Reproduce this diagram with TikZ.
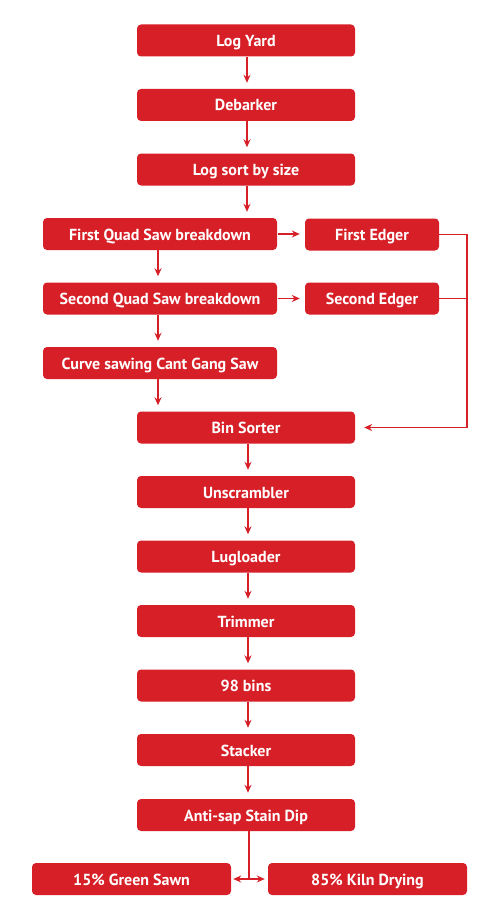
\documentclass[tikz,border=0pt]{standalone}
\usepackage{fontspec}
\setmainfont{PT Sans}
\usetikzlibrary{arrows.meta}
\definecolor{boxred}{HTML}{D71F27}
\begin{document}
\begin{tikzpicture}[x=1pt,y=-1pt,
  box/.style={draw=none,fill=boxred,rounded corners=4pt,minimum height=32pt,inner sep=0pt,
    text=white,font=\bfseries\fontsize{16}{18}\selectfont,text height=13pt,text depth=1pt},
  mainbox/.style={box,minimum width=218pt},
  leftbox/.style={box,minimum width=234pt},
  edgebox/.style={box,minimum width=134pt},
  botbox/.style={box,minimum width=199pt},
  arr/.style={draw=boxred,line width=1.6pt,-{Stealth[length=8pt,width=7pt]},shorten >=6pt},
  ln/.style={draw=boxred,line width=1.6pt}]
\useasboundingbox (0,0) rectangle (500,923);
\node[mainbox] (ly) at (246,40.5) {Log Yard};
\node[mainbox] (db) at (246,105) {Debarker};
\node[mainbox] (ls) at (246,169.5) {Log sort by size};
\node[leftbox] (fq) at (160,234) {First Quad Saw breakdown};
\node[edgebox] (fe) at (372,234.5) {First Edger};
\node[leftbox] (sq) at (160,298.5) {Second Quad Saw breakdown};
\node[edgebox] (se) at (372,298.5) {Second Edger};
\node[leftbox] (cs) at (160,363) {Curve sawing Cant Gang Saw};
\node[mainbox] (bs) at (246,427.5) {Bin Sorter};
\node[mainbox] (un) at (246,492) {Unscrambler};
\node[mainbox] (lu) at (246,556.5) {Lugloader};
\node[mainbox] (tr) at (246,621) {Trimmer};
\node[mainbox] (bn) at (246,685.5) {98 bins};
\node[mainbox] (st) at (246,750) {Stacker};
\node[mainbox] (as) at (246,815) {Anti-sap Stain Dip};
\node[botbox] (gs) at (131.5,879) {15\% Green Sawn};
\node[botbox] (kd) at (367.5,879) {85\% Kiln Drying};
\coordinate (rail) at (467,234);
\coordinate (split) at (249,879);
% main vertical arrows
\draw[arr] (ly.south -| 247,0) -- (db.north -| 247,0);
\draw[arr] (db.south -| 247,0) -- (ls.north -| 247,0);
\draw[arr] (ls.south -| 247,0) -- (fq.north -| 247,0);
\draw[arr] (fq.south -| 158,0) -- (sq.north -| 158,0);
\draw[arr] (sq.south -| 158,0) -- (cs.north -| 158,0);
\draw[arr] (cs.south -| 158,0) -- (bs.north -| 158,0);
\draw[arr] (bs.south -| 248,0) -- (un.north -| 248,0);
\draw[arr] (un.south -| 248,0) -- (lu.north -| 248,0);
\draw[arr] (lu.south -| 248,0) -- (tr.north -| 248,0);
\draw[arr] (tr.south -| 248,0) -- (bn.north -| 248,0);
\draw[arr] (bn.south -| 248,0) -- (st.north -| 248,0);
\draw[arr] (st.south -| 248,0) -- (as.north -| 248,0);
% edgers
\draw[arr,shorten <=1pt,shorten >=5pt] (fq.east) -- (fe.west |- fq.east);
\draw[arr,shorten <=1pt,shorten >=5pt] (sq.east) -- (se.west |- sq.east);
\draw[ln] (fe.east) -- (fe.east -| rail) -- (rail |- bs.east);
\draw[ln] (se.east) -- (se.east -| rail);
\draw[arr,shorten >=9pt] (rail |- bs.east) -- (bs.east);
% bottom split
\draw[ln] (as.south -| split) -- (split);
\draw[draw=boxred,line width=1.6pt,{Stealth[length=8pt,width=7pt]}-{Stealth[length=8pt,width=7pt]},shorten <=2pt,shorten >=3pt] (gs.east) -- (kd.west);
\end{tikzpicture}
\end{document}
